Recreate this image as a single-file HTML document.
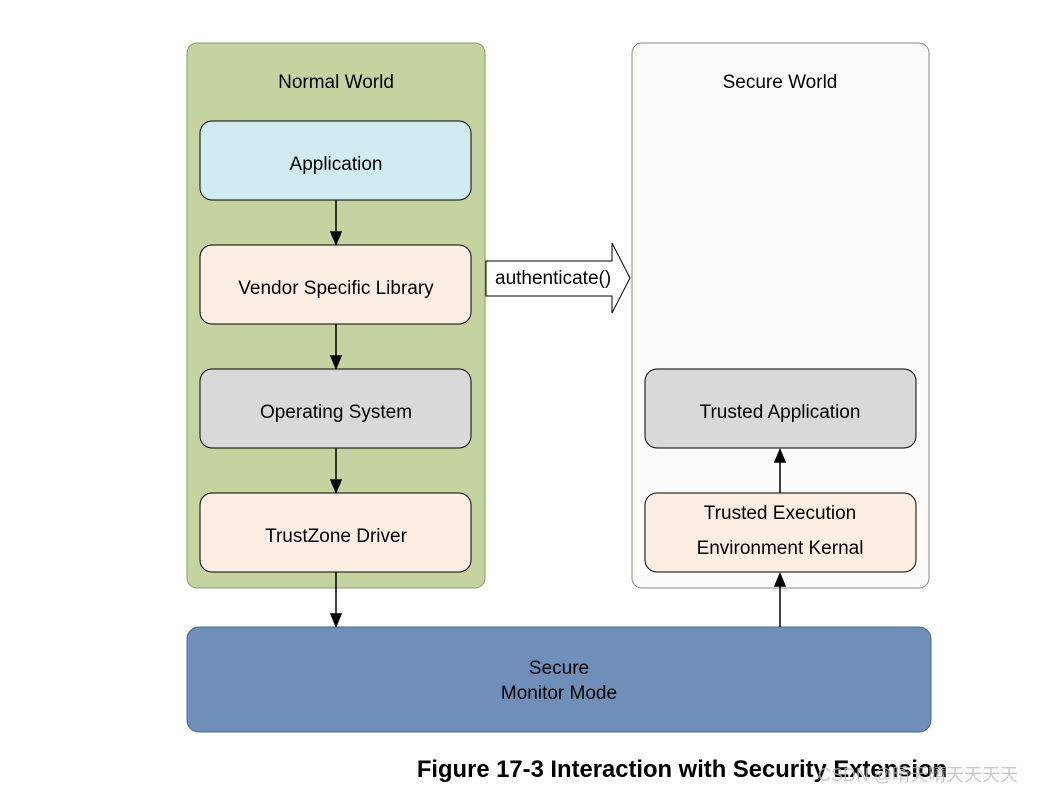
<!DOCTYPE html>
<html><head><meta charset="utf-8"><style>body{margin:0;background:#fff}svg{display:block}</style></head>
<body>
<svg width="1038" height="794" viewBox="0 0 1038 794" xmlns="http://www.w3.org/2000/svg" font-family="Liberation Sans, sans-serif">
<rect x="187" y="43" width="298" height="545" rx="10" fill="#c4d3a0" stroke="#8a9a6a"/>
<rect x="632" y="43" width="297" height="545" rx="10" fill="#fdfcfa" stroke="#888"/>
<g font-size="19" text-anchor="middle">
<text x="336" y="88">Normal World</text>
<text x="780" y="88">Secure World</text>
<rect x="200" y="121" width="271" height="79" rx="12" fill="#d0ecf0" stroke="#000"/>
<text x="336" y="170">Application</text>
<rect x="200" y="245" width="271" height="79" rx="12" fill="#fdeee4" stroke="#000"/>
<text x="336" y="294">Vendor Specific Library</text>
<rect x="200" y="369" width="271" height="79" rx="12" fill="#d9d9d9" stroke="#000"/>
<text x="336" y="418">Operating System</text>
<rect x="200" y="493" width="271" height="79" rx="12" fill="#fdeee4" stroke="#000"/>
<text x="336" y="542">TrustZone Driver</text>
<rect x="645" y="369" width="271" height="79" rx="12" fill="#d9d9d9" stroke="#000"/>
<text x="780" y="418">Trusted Application</text>
<rect x="645" y="493" width="271" height="79" rx="12" fill="#fdeee4" stroke="#000"/>
<text x="780" y="519">Trusted Execution</text>
<text x="780" y="554">Environment Kernal</text>
<rect x="187" y="627" width="744" height="105" rx="12" fill="#6f8fb8" stroke="#4a6a90"/>
<text x="559" y="674">Secure</text>
<text x="559" y="699">Monitor Mode</text>
</g>
<g stroke="#000" stroke-width="1.5" fill="#000">
<line x1="336" y1="200" x2="336" y2="234"/><path d="M331,232 L341,232 L336,244Z"/>
<line x1="336" y1="324" x2="336" y2="358"/><path d="M331,356 L341,356 L336,368Z"/>
<line x1="336" y1="448" x2="336" y2="482"/><path d="M331,480 L341,480 L336,492Z"/>
<line x1="336" y1="572" x2="336" y2="616"/><path d="M331,614 L341,614 L336,626Z"/>
<line x1="780" y1="627" x2="780" y2="584"/><path d="M775,586 L785,586 L780,574Z"/>
<line x1="780" y1="493" x2="780" y2="460"/><path d="M775,462 L785,462 L780,450Z"/>
</g>
<path d="M486,261 L612,261 L612,243 L630,278 L612,313 L612,296 L486,296Z" fill="#fff" stroke="#000" stroke-width="1"/>
<text x="495" y="284" font-size="19">authenticate()</text>
<text x="682" y="777" font-size="23.8" font-weight="bold" text-anchor="middle">Figure 17-3 Interaction with Security Extension</text>
<text x="918" y="781" font-size="18" fill="#bbb" text-anchor="middle" font-family="Liberation Sans, Noto Sans CJK SC, sans-serif" opacity="0.8">CSDN @晴天晴天天天天</text>
</svg>
</body></html>
